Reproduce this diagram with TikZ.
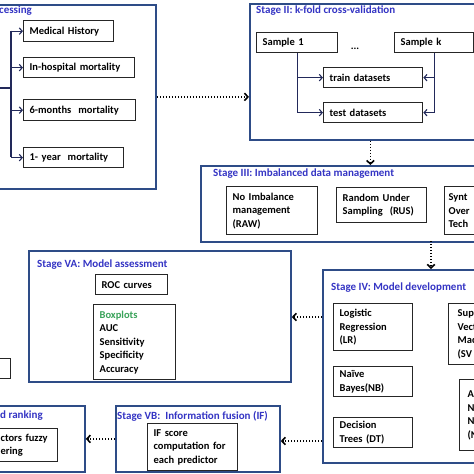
\documentclass[tikz,border=0pt]{standalone}
\usepackage{fontspec}
\setmainfont{Carlito}
\usetikzlibrary{arrows.meta}
\definecolor{frameblue}{HTML}{2E4C87}
\definecolor{titleblue}{HTML}{3434C4}
\definecolor{linknavy}{HTML}{22295A}
\definecolor{boxgreen}{HTML}{3AA35A}
\begin{document}
\begin{tikzpicture}[x=1pt,y=-1pt,
  font=\fontsize{10.5}{13.5}\selectfont\bfseries,
  stageframe/.style={draw=frameblue,line width=1.8pt,anchor=north west,inner sep=0pt},
  stitle/.style={text=titleblue,anchor=west,inner sep=0pt,font=\fontsize{11}{13.5}\selectfont\bfseries},
  ibox/.style={draw=black!85,line width=1.3pt,anchor=north west,align=left,inner xsep=6pt,inner ysep=1pt},
  navylink/.style={draw=linknavy,line width=1.1pt},
  navyarrow/.style={navylink,-{Straight Barb[length=3pt,width=6.5pt]}},
  dotarrow/.style={draw=black,line width=1.6pt,dash pattern=on 1.4pt off 1.6pt,-{Straight Barb[length=3.5pt,width=7.5pt]}}
]
\useasboundingbox (0,0) rectangle (474,474);
\clip (0,0) rectangle (474,474);
\fill[white] (0,0) rectangle (474,474);

% ---------- frames ----------
\node[stageframe,minimum width=175,minimum height=184] (fI) at (-20,4) {};
\node[stageframe,minimum width=241,minimum height=136] (fII) at (249,3) {};
\node[stageframe,minimum width=290,minimum height=76] (fIII) at (200,165) {};
\node[stageframe,minimum width=170,minimum height=193] (fIV) at (322,269) {};
\node[stageframe,minimum width=262,minimum height=131] (fVA) at (28,250) {};
\node[stageframe,minimum width=164,minimum height=66] (fVB) at (115,405) {};
\node[stageframe,minimum width=104,minimum height=66] (fVI) at (-20,405) {};

% ---------- titles ----------
\node[stitle] (tI) at (-1,11) {cessing};
\node[stitle] (tII) at (256,11) {Stage II: k-fold cross-validation};
\node[stitle] (tIII) at (213,174) {Stage III: Imbalanced data management};
\node[stitle] (tIV) at (331,288) {Stage IV: Model development};
\node[stitle] (tVA) at (37,265) {Stage VA: Model assessment};
\node[stitle] (tVB) at (117,416) {Stage VB:\ \ Information fusion (IF)};
\node[stitle] (tVI) at (0,416) {d ranking};

% ---------- Stage I ----------
\node[ibox,text width=78,minimum height=21] (mh) at (23,20) {Medical History};
\node[ibox,text width=99,minimum height=20] (ih) at (23,57) {In-hospital mortality};
\node[ibox,text width=100,minimum height=21] (m6) at (23,99) {6-months\ \ mortality};
\node[ibox,text width=88,minimum height=20] (y1) at (23,147) {1- year\ \ mortality};
\coordinate (inI) at (-20,88);
\coordinate (bt) at (11,30.5);
\coordinate (bb) at (11,157);
\draw[navylink] (inI) -- (inI -| bt);
\draw[navylink] (bt) -- (bb);
\draw[navyarrow] (bt |- mh.west) -- (mh.west);
\draw[navyarrow] (bt |- ih.west) -- (ih.west);
\draw[navyarrow] (bt |- m6.west) -- (m6.west);
\draw[navyarrow] (bt |- y1.west) -- (y1.west);

% ---------- Stage II ----------
\node[ibox,text width=69,minimum height=20] (s1) at (256,32) {Sample 1};
\node[ibox,text width=67,minimum height=20] (sk) at (394,32) {Sample k};
\node[anchor=base,inner sep=0pt] (dots) at (355,49) {...};
\node[ibox,text width=87,minimum height=20] (tr) at (323,67) {train datasets};
\node[ibox,text width=87,minimum height=20] (te) at (323,102) {test datasets};
\draw[navyarrow] (s1.south) |- (tr.west);
\draw[navyarrow] (s1.south) |- (te.west);
\draw[navyarrow] (sk.south) |- (tr.east);
\draw[navyarrow] (sk.south) |- (te.east);

% ---------- Stage III ----------
\node[ibox,text width=79,minimum height=48] (raw) at (226,186) {No Imbalance\\management\\(RAW)};
\node[ibox,text width=78,minimum height=35] (rus) at (336,187) {Random Under\\Sampling\ \ (RUS)};
\node[ibox,inner xsep=4pt,text width=48,minimum height=48] (smote) at (444,186) {Synt\\Over\\Tech};

% ---------- Stage IV ----------
\node[ibox,text width=67,minimum height=47] (lr) at (333,303) {Logistic\\Regression\\(LR)};
\node[ibox,text width=67,minimum height=30] (nb) at (333,366) {Naïve\\Bayes(NB)};
\node[ibox,text width=67,minimum height=30] (dt) at (333,417) {Decision\\Trees (DT)};
\node[ibox,inner xsep=9pt,text width=34,minimum height=61] (svm) at (448,303) {Sup\\Vect\\Mac\\(SV};
\node[ibox,inner xsep=8pt,text width=35,minimum height=71] (ann) at (459,379) {A\\N\\N\\(N};

% ---------- Stage VA ----------
\node[ibox,text width=60,minimum height=20] (roc) at (95,274) {ROC curves};
\node[ibox,inner xsep=6pt,text width=70,minimum height=75] (bp) at (93,304) {\textcolor{boxgreen}{Boxplots}\\AUC\\Sensitivity\\Specificity\\Accuracy};

% ---------- Stage VB / VI ----------
\node[ibox,text width=78,minimum height=47] (ifs) at (147,423) {IF score\\computation for\\each predictor};
\node[ibox,inner xsep=2pt,text width=73,minimum height=33] (pf) at (-20,428) {\hspace*{18pt}ctors fuzzy\\\hspace*{18pt}ering};
\node[ibox,minimum width=30,minimum height=20,inner sep=0pt] (lbox) at (-20,358) {};

% ---------- dotted flow arrows ----------
\coordinate (c3) at (431,241);
\coordinate (c4a) at (322,317);
\coordinate (c4b) at (322,441);
\draw[dotarrow] (fI.east) -- (fI.east -| fII.west);
\draw[dotarrow] (fII.south) -- (fII.south |- fIII.north);
\draw[dotarrow] (c3) -- (c3 |- fIV.north);
\draw[dotarrow] (c4a) -- (c4a -| fVA.east);
\draw[dotarrow] (c4b) -- (c4b -| fVB.east);
\draw[dotarrow] (fVB.west) -- (fVB.west -| fVI.east);
\end{tikzpicture}
\end{document}
